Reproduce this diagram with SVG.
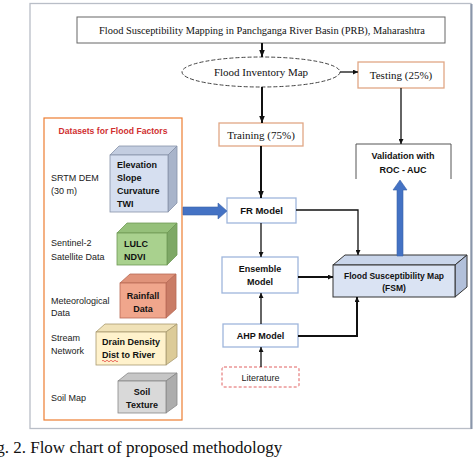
<svg xmlns="http://www.w3.org/2000/svg" width="474" height="457" viewBox="0 0 474 457">
<defs>
<style>
.serif{font-family:"Liberation Serif","Times New Roman",serif;fill:#111}
.sans{font-family:"Liberation Sans",Arial,sans-serif;fill:#222}
.b{font-weight:bold;fill:#111}
.ln{stroke:#111;stroke-width:1.3;fill:none}
.lnb{stroke:#111;stroke-width:2;fill:none}
.bluebox{fill:#fff;stroke:#9fb6dc;stroke-width:1.3}
.orbox{fill:#fff;stroke:#e0a785;stroke-width:1.3}
</style>
<marker id="ah" viewBox="0 0 10 10" refX="10" refY="5" markerWidth="5" markerHeight="5" orient="auto" markerUnits="userSpaceOnUse">
<path d="M0,0 L10,5 L0,10 z" fill="#111"/>
</marker>
<marker id="ahs" viewBox="0 0 10 10" refX="10" refY="5" markerWidth="7" markerHeight="7" orient="auto" markerUnits="userSpaceOnUse">
<path d="M0,1 L10,5 L0,9 z" fill="#111"/>
</marker>
</defs>
<rect width="474" height="457" fill="#fff"/>
<!-- outer frame -->
<rect x="30" y="3.5" width="441" height="425" fill="none" stroke="#b9bec7" stroke-width="1.3"/>
<line x1="471.5" y1="4" x2="471.5" y2="429" stroke="#8a96aa" stroke-width="2"/>

<g id="title">
<rect x="77" y="17" width="368" height="26" fill="#fff" stroke="#666" stroke-width="1"/>
<text class="serif" x="262" y="33.5" font-size="10.4" text-anchor="middle">Flood Susceptibility Mapping in Panchganga River Basin (PRB), Maharashtra</text>
</g>
<g id="inventory">
<ellipse cx="261" cy="72" rx="79" ry="15" fill="#fff" stroke="#444" stroke-width="1" stroke-dasharray="4,2"/>
<text class="serif" x="261" y="76" font-size="11" text-anchor="middle">Flood Inventory Map</text>
</g>
<g id="testing">
<rect class="orbox" x="358" y="62" width="86" height="26"/>
<text class="serif" x="401" y="79" font-size="11" text-anchor="middle">Testing (25%)</text>
</g>
<g id="training">
<rect class="orbox" x="219" y="123" width="84" height="23"/>
<text class="serif" x="261" y="138.5" font-size="11" text-anchor="middle">Training (75%)</text>
</g>
<g id="validation">
<path d="M356,179 V144 H451 V179" fill="none" stroke="#555" stroke-width="1"/>
<text class="sans b" x="403" y="159" font-size="9" text-anchor="middle">Validation with</text>
<text class="sans b" x="403" y="172.5" font-size="9" text-anchor="middle">ROC - AUC</text>
</g>
<g id="fr">
<rect class="bluebox" x="227" y="198" width="69" height="25"/>
<text class="sans b" x="261.5" y="214" font-size="9.5" text-anchor="middle">FR Model</text>
</g>
<g id="ensemble">
<rect class="bluebox" x="222" y="257" width="76" height="36"/>
<text class="sans b" x="260" y="272" font-size="9" text-anchor="middle">Ensemble</text>
<text class="sans b" x="260" y="285" font-size="9" text-anchor="middle">Model</text>
</g>
<g id="ahp">
<rect class="bluebox" x="223" y="324" width="75" height="23"/>
<text class="sans b" x="260.5" y="339" font-size="9" text-anchor="middle">AHP Model</text>
</g>
<g id="literature">
<rect x="222" y="367" width="77" height="20" rx="2" fill="#fff" stroke="#e06060" stroke-width="1" stroke-dasharray="3,2"/>
<text class="sans" x="260.5" y="381" font-size="9" text-anchor="middle" fill="#444">Literature</text>
</g>
<g id="fsm">
<polygon points="333,265 345,255 467,255 455,265" fill="#c9d5ea" stroke="#333" stroke-width="1"/>
<polygon points="455,265 467,255 467,287 455,297" fill="#b2c0da" stroke="#333" stroke-width="1"/>
<rect x="333" y="265" width="122" height="32" fill="#dae3f3" stroke="#333" stroke-width="1"/>
<text class="sans b" x="394" y="279" font-size="8.5" text-anchor="middle">Flood Susceptibility Map</text>
<text class="sans b" x="394" y="291" font-size="8.5" text-anchor="middle">(FSM)</text>
</g>

<g id="datasets">
<rect x="44" y="118" width="138" height="302" fill="#fff" stroke="#ed7d31" stroke-width="1.2"/>
<text class="sans b" x="113" y="134" font-size="8.6" text-anchor="middle" fill="#d03030" style="fill:#d03030">Datasets for Flood Factors</text>
</g>
<g id="dem">
<polygon points="110,155 119,146 177,146 168,155" fill="#c3cde0" stroke="#8792a8" stroke-width="0.8"/>
<polygon points="168,155 177,146 177,203 168,212" fill="#a8b4ca" stroke="#8792a8" stroke-width="0.8"/>
<rect x="110" y="155" width="58" height="57" fill="#d6dff0" stroke="#8792a8" stroke-width="0.8"/>
<text class="sans b" x="117" y="168" font-size="9">Elevation</text>
<text class="sans b" x="117" y="181" font-size="9">Slope</text>
<text class="sans b" x="117" y="194" font-size="9">Curvature</text>
<text class="sans b" x="117" y="207" font-size="9">TWI</text>
<text class="sans" x="51" y="181" font-size="9" fill="#333">SRTM DEM</text>
<text class="sans" x="51" y="194" font-size="9" fill="#333">(30 m)</text>
</g>
<g id="sentinel">
<polygon points="117,233 127,223 177,223 167,233" fill="#95c07a" stroke="#6f9a55" stroke-width="0.8"/>
<polygon points="167,233 177,223 177,255 167,265" fill="#7ea866" stroke="#6f9a55" stroke-width="0.8"/>
<rect x="117" y="233" width="50" height="32" fill="#a9d18e" stroke="#6f9a55" stroke-width="0.8"/>
<text class="sans b" x="124" y="247" font-size="9">LULC</text>
<text class="sans b" x="124" y="260" font-size="9">NDVI</text>
<text class="sans" x="51" y="246" font-size="9" fill="#333">Sentinel-2</text>
<text class="sans" x="51" y="260" font-size="9" fill="#333">Satellite Data</text>
</g>
<g id="met">
<polygon points="120,283 130,274 176,274 166,283" fill="#e0937a" stroke="#b86a55" stroke-width="0.8"/>
<polygon points="166,283 176,274 176,309 166,318" fill="#c97c66" stroke="#b86a55" stroke-width="0.8"/>
<rect x="120" y="283" width="46" height="35" fill="#f0a68c" stroke="#b86a55" stroke-width="0.8"/>
<text class="sans b" x="143" y="299" font-size="9" text-anchor="middle">Rainfall</text>
<text class="sans b" x="143" y="312" font-size="9" text-anchor="middle">Data</text>
<text class="sans" x="51" y="304" font-size="9" fill="#333">Meteorological</text>
<text class="sans" x="51" y="316" font-size="9" fill="#333">Data</text>
</g>
<g id="stream">
<polygon points="96,332 105,324 177,324 166,332" fill="#f0e2b8" stroke="#a89a70" stroke-width="0.8"/>
<polygon points="166,332 177,324 177,357 166,365" fill="#dccb98" stroke="#a89a70" stroke-width="0.8"/>
<rect x="96" y="332" width="70" height="33" fill="#fff2cc" stroke="#a89a70" stroke-width="0.8"/>
<text class="sans b" x="102" y="345" font-size="9">Drain Density</text>
<text class="sans b" x="102" y="358" font-size="9">Dist to River</text>
<path d="M102,361 q1,-1.5 2,0 t2,0 t2,0 t2,0 t2,0 t2,0 t2,0 t2,0" fill="none" stroke="#e03030" stroke-width="0.7"/>
<text class="sans" x="51" y="341" font-size="9" fill="#333">Stream</text>
<text class="sans" x="51" y="354" font-size="9" fill="#333">Network</text>
</g>
<g id="soil">
<polygon points="118,381 128,373 177,373 166,381" fill="#c6c6c6" stroke="#888" stroke-width="0.8"/>
<polygon points="166,381 177,373 177,405 166,413" fill="#adadad" stroke="#888" stroke-width="0.8"/>
<rect x="118" y="381" width="48" height="32" fill="#d9d9d9" stroke="#888" stroke-width="0.8"/>
<text class="sans b" x="142" y="395" font-size="9" text-anchor="middle">Soil</text>
<text class="sans b" x="142" y="408" font-size="9" text-anchor="middle">Texture</text>
<text class="sans" x="51" y="401" font-size="9" fill="#333">Soil Map</text>
</g>

<g id="connectors">
<line class="lnb" x1="262" y1="43" x2="262" y2="57" marker-end="url(#ahs)"/>
<line class="lnb" x1="262" y1="87" x2="262" y2="123" marker-end="url(#ahs)"/>
<line class="ln" x1="340" y1="72" x2="358" y2="72" marker-end="url(#ah)"/>
<line class="ln" x1="401" y1="88" x2="401" y2="144" marker-end="url(#ah)"/>
<line class="lnb" x1="261" y1="146" x2="261" y2="198" marker-end="url(#ahs)"/>
<path class="ln" d="M296,210 H358 V255" marker-end="url(#ah)"/>
<line class="ln" x1="261" y1="223" x2="261" y2="257" marker-end="url(#ah)"/>
<line class="lnb" x1="298" y1="277" x2="333" y2="277" marker-end="url(#ah)"/>
<path class="lnb" d="M298,336 H357 V297" marker-end="url(#ah)"/>
<line class="ln" x1="261" y1="324" x2="261" y2="293" marker-end="url(#ah)"/>
<line class="ln" x1="261" y1="367" x2="261" y2="347" marker-end="url(#ah)"/>
<path d="M183,207 H218 V203 L227,211 L218,219 V215 H183 z" fill="#4472c4" stroke="#3a62a8" stroke-width="0.6"/>
<path d="M397,256 V190 H393 L400,180 L407,190 H403 V256 z" fill="#4472c4" stroke="#3a62a8" stroke-width="0.6"/>
</g>

<text class="serif" x="-18" y="453" font-size="17" fill="#222">Fig. 2. Flow chart of proposed methodology</text>
</svg>
